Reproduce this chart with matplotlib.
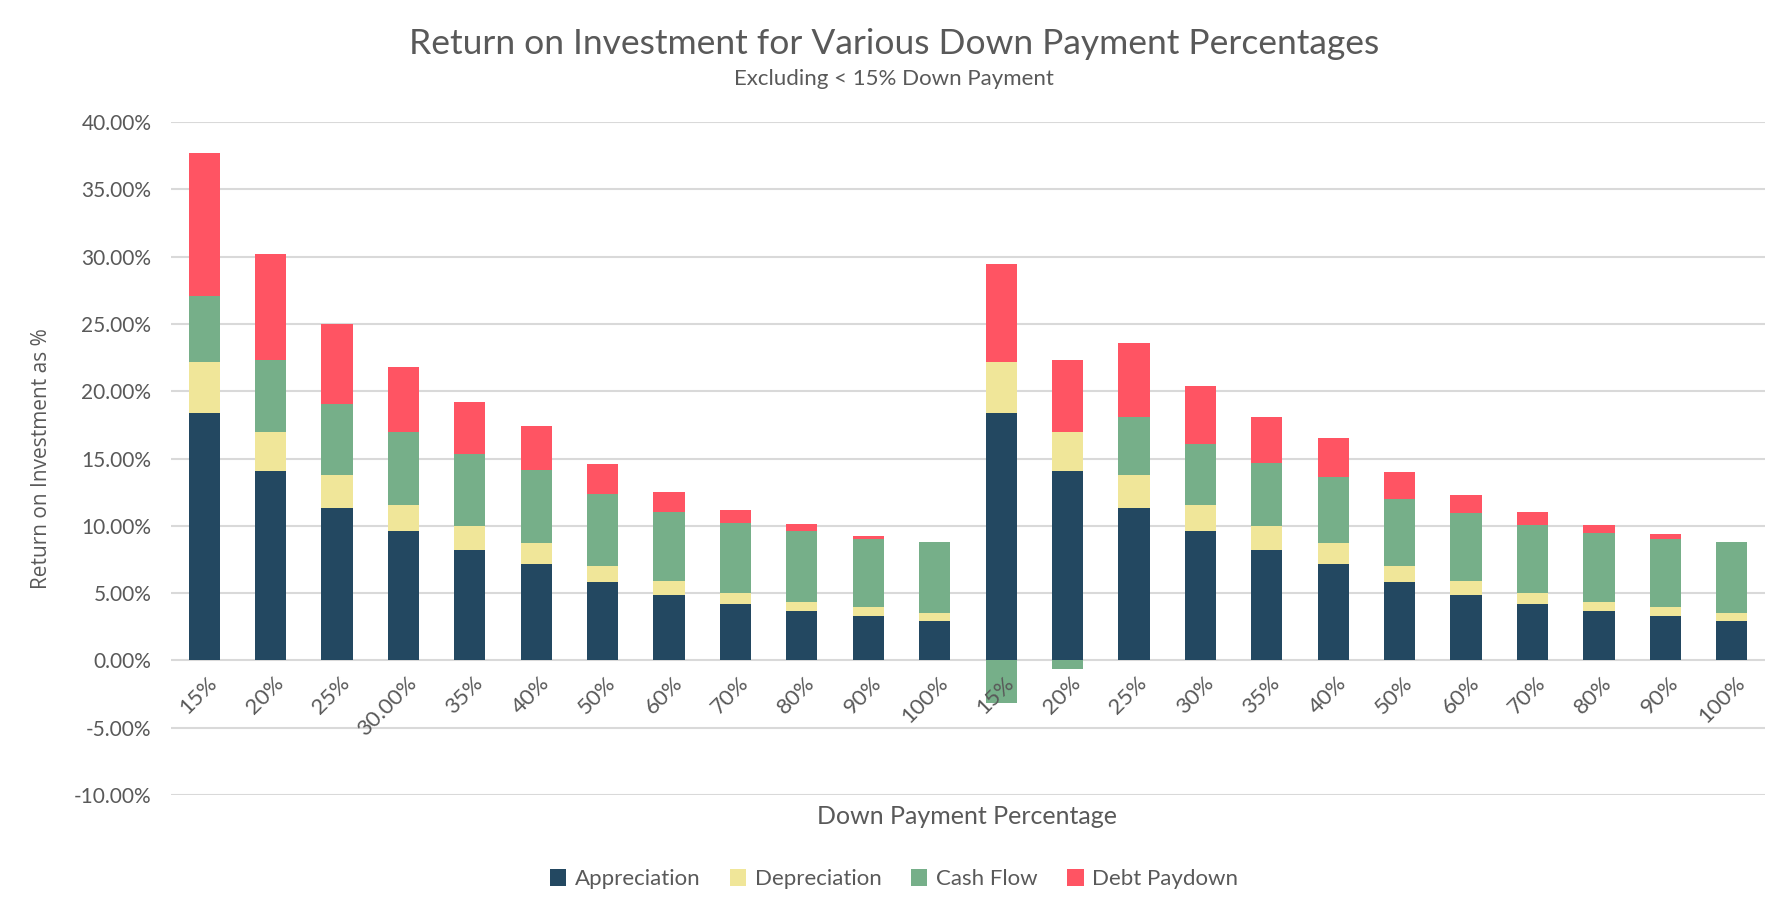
import numpy as np
import matplotlib.pyplot as plt
import matplotlib.transforms as mtransforms
from matplotlib.ticker import FuncFormatter

plt.rcParams['font.family'] = ['Lato', 'DejaVu Sans']

labels = ["15%", "20%", "25%", "30.00%", "35%", "40%", "50%", "60%", "70%", "80%", "90%", "100%",
          "15%", "20%", "25%", "30%", "35%", "40%", "50%", "60%", "70%", "80%", "90%", "100%"]

# values in percent
appreciation = [18.4, 14.1, 11.36, 9.58, 8.24, 7.2, 5.79, 4.83, 4.16, 3.64, 3.27, 2.9,
                18.4, 14.1, 11.36, 9.58, 8.24, 7.2, 5.79, 4.83, 4.16, 3.64, 3.27, 2.9]
depreciation = [3.78, 2.87, 2.38, 1.93, 1.71, 1.56, 1.19, 1.04, 0.86, 0.72, 0.67, 0.66,
                3.78, 2.87, 2.38, 1.93, 1.71, 1.56, 1.19, 1.04, 0.86, 0.72, 0.67, 0.66]
cash_flow = [4.9, 5.35, 5.32, 5.47, 5.42, 5.42, 5.42, 5.19, 5.2, 5.22, 5.05, 5.25,
             -3.17, -0.67, 4.33, 4.6, 4.68, 4.83, 5.02, 5.05, 5.05, 5.12, 5.09, 5.25]
debt_paydown = [10.6, 7.84, 5.94, 4.8, 3.81, 3.22, 2.2, 1.46, 0.97, 0.57, 0.27, 0.0,
                7.25, 5.32, 5.49, 4.26, 3.44, 2.92, 2.01, 1.38, 0.97, 0.59, 0.38, 0.0]

series = [("Appreciation", appreciation, "#234861"),
          ("Depreciation", depreciation, "#F0E699"),
          ("Cash Flow", cash_flow, "#76AF89"),
          ("Debt Paydown", debt_paydown, "#FF5463")]

text_col = "#595959"
yticks = np.arange(-10, 41, 5)

fig = plt.figure(figsize=(17.88, 9.13), dpi=100)
ax = fig.add_axes([0.0956, 0.1292, 0.8915, 0.7372])

# gridlines behind bars, tick labels stay on top
for yv in yticks:
    ax.axhline(yv, color="#D9D9D9", linewidth=1.5, zorder=0)

x = np.arange(len(labels))
pos_base = np.zeros(len(labels))
neg_base = np.zeros(len(labels))
for name, vals, col in series:
    v = np.array(vals)
    bottom = np.where(v >= 0, pos_base, neg_base)
    ax.bar(x, v, 0.47, bottom=bottom, color=col, label=name, zorder=1)
    pos_base += np.where(v >= 0, v, 0)
    neg_base += np.where(v < 0, v, 0)

ax.set_xlim(-0.5, len(labels) - 0.5)
ax.set_ylim(-10, 40)
ax.set_yticks(yticks)
ax.yaxis.set_major_formatter(FuncFormatter(lambda v, p: f"{v:.2f}%".replace("\u2212", "-")))
for s in ["top", "right", "left"]:
    ax.spines[s].set_visible(False)
ax.spines["bottom"].set_position(("data", 0))
ax.spines["bottom"].set_visible(False)
ax.tick_params(axis='y', length=0, labelsize=15, labelcolor=text_col, pad=14)
ax.tick_params(axis='x', length=0, labelsize=16, labelcolor=text_col, pad=9)
ax.set_xticks(x)
ax.set_xticklabels(labels, rotation=45, ha='right', rotation_mode='anchor')
shift = mtransforms.ScaledTranslation(0.03, 0, fig.dpi_scale_trans)
for lab in ax.get_xticklabels():
    lab.set_transform(lab.get_transform() + shift)

ax.set_ylabel("Return on Investment as %", family=['Open Sans', 'DejaVu Sans'],
              fontsize=15, color=text_col, labelpad=16)

fig.text(0.5, 0.952, "Return on Investment for Various Down Payment Percentages",
         ha='center', va='center', fontsize=25.5, color=text_col)
fig.text(0.5, 0.913, "Excluding < 15% Down Payment", ha='center', va='center',
         fontsize=16, color=text_col)
fig.text(0.541, 0.106, "Down Payment Percentage", ha='center', va='center',
         fontsize=18, color=text_col)

leg = fig.legend(loc='center', bbox_to_anchor=(0.5, 0.037), ncol=4, frameon=False,
                 fontsize=16, handlelength=0.75, handleheight=0.75, columnspacing=1.3,
                 handletextpad=0.4)
for t in leg.get_texts():
    t.set_color(text_col)

fig.savefig("out.png", dpi=100)
